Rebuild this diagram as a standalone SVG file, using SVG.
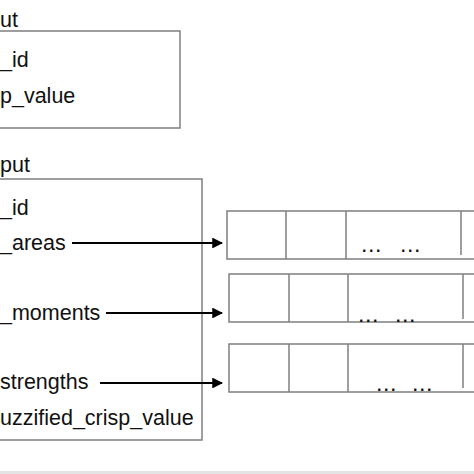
<svg xmlns="http://www.w3.org/2000/svg" width="474" height="474" viewBox="0 0 474 474">
<style>
.box{fill:none;stroke:#7f7f7f;stroke-width:1.5}
.div{stroke:#7f7f7f;stroke-width:1.5}
.t{font-family:"Liberation Sans",Arial,sans-serif;font-size:21.5px;fill:#111}
.d{font-family:"Liberation Sans",Arial,sans-serif;font-size:16px;letter-spacing:2.5px;fill:#111;font-weight:bold}
.arr{stroke:#000;stroke-width:1.8;fill:none;marker-end:url(#ah)}
</style>
<defs>
<marker id="ah" viewBox="0 0 10 10" refX="9" refY="5" markerWidth="6" markerHeight="6" orient="auto" markerUnits="strokeWidth">
<path d="M0,0 L10,5 L0,10 z" fill="#000"/>
</marker>
</defs>
<rect x="0" y="471" width="474" height="3" fill="#e4e4e4"/>
<g id="output-top">
<text class="t" x="0" y="27">ut</text>
<rect class="box" x="-5" y="31" width="185" height="97"/>
<text class="t" x="0" y="67">_id</text>
<text class="t" x="0" y="103">p_value</text>
</g>
<g id="input-box">
<text class="t" x="0" y="172">put</text>
<rect class="box" x="-5" y="179" width="207" height="261"/>
<text class="t" x="0" y="215">_id</text>
<text class="t" x="0" y="250">_areas</text>
<text class="t" x="0" y="320">_moments</text>
<text class="t" x="0" y="389">strengths</text>
<text class="t" x="0" y="425">uzzified_crisp_value</text>
</g>
<g id="array1">
<rect class="box" x="227" y="211" width="260" height="48"/>
<line class="div" x1="286" y1="211" x2="286" y2="259"/>
<line class="div" x1="346" y1="211" x2="346" y2="259"/>
<line class="div" x1="461" y1="211" x2="461" y2="255"/>
<text class="d" x="362" y="252">...</text>
<text class="d" x="401" y="252">...</text>
</g>
<g id="array2">
<rect class="box" x="229" y="274" width="260" height="48"/>
<line class="div" x1="289" y1="274" x2="289" y2="322"/>
<line class="div" x1="348" y1="274" x2="348" y2="322"/>
<line class="div" x1="463" y1="274" x2="463" y2="319"/>
<text class="d" x="359" y="322">...</text>
<text class="d" x="396" y="322">...</text>
</g>
<g id="array3">
<rect class="box" x="229" y="344" width="260" height="48"/>
<line class="div" x1="289" y1="344" x2="289" y2="392"/>
<line class="div" x1="348" y1="344" x2="348" y2="392"/>
<line class="div" x1="463" y1="344" x2="463" y2="388"/>
<text class="d" x="377" y="391">...</text>
<text class="d" x="413" y="391">...</text>
</g>
<g id="connectors">
<line class="arr" x1="72" y1="243" x2="222" y2="243"/>
<line class="arr" x1="106" y1="313" x2="222" y2="313"/>
<line class="arr" x1="100" y1="383" x2="222" y2="383"/>
</g>
</svg>
